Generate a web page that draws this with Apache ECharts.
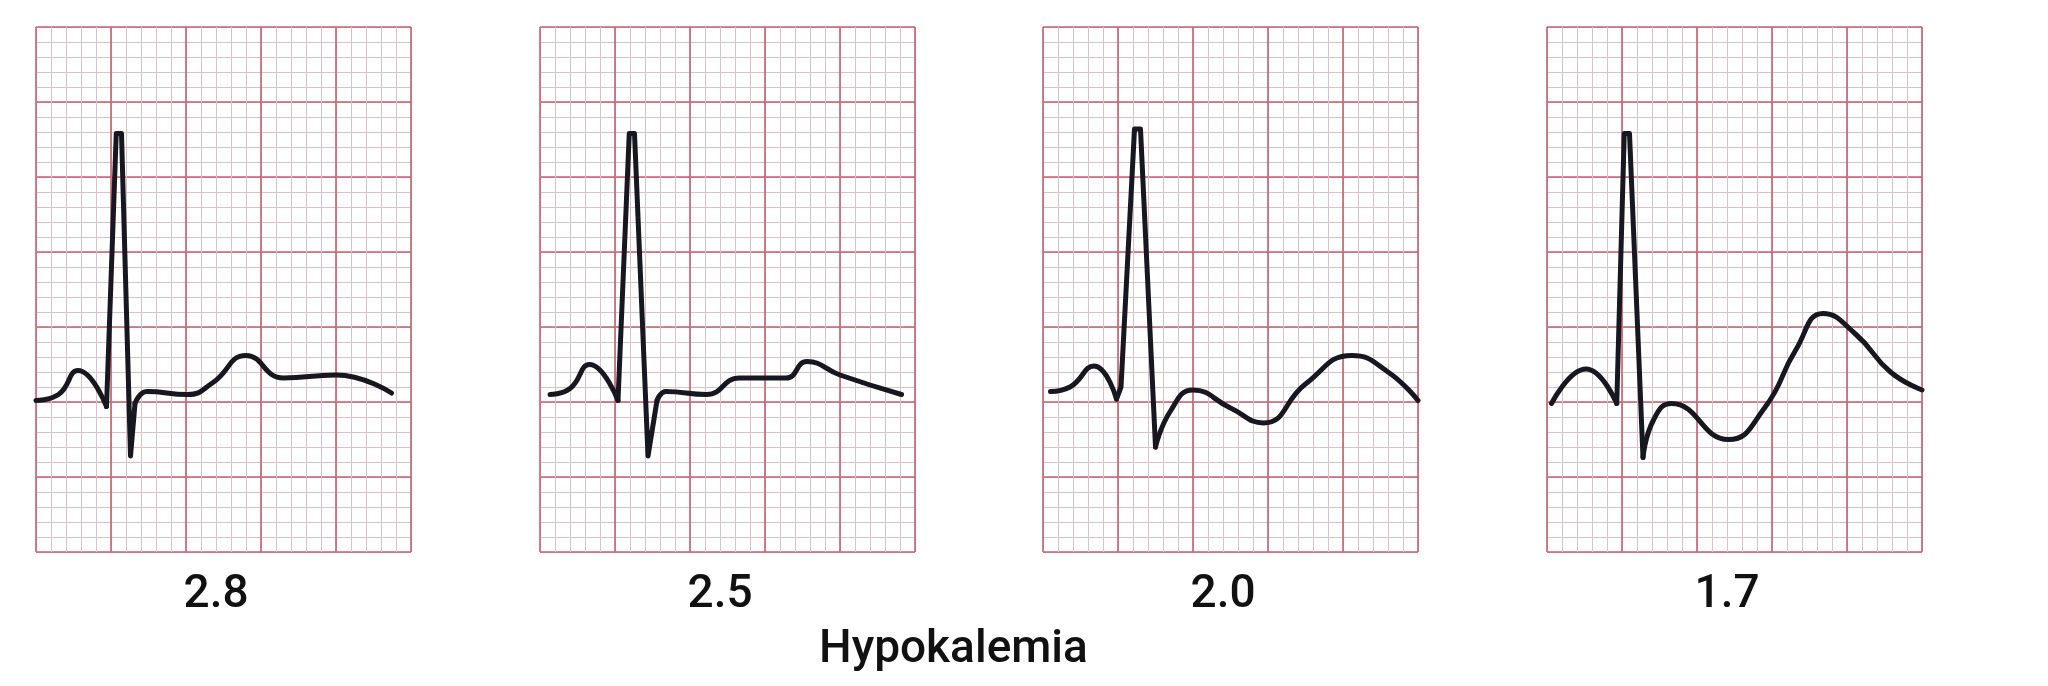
<!DOCTYPE html>
<html><head><meta charset="utf-8">
<script src="https://cdn.jsdelivr.net/npm/echarts@6/dist/echarts.min.js"></script>
<style>html,body{margin:0;padding:0;background:#fff}#c{width:2048px;height:686px}</style>
</head><body><div id="c"></div>
<script>
const panelLabels = ['2.8', '2.5', '2.0', '1.7'];
const caption = 'Hypokalemia';
// each trace: P-wave segment, QRS segment (straight), ST/T segment
const p28 = [[0,10.1],[1.5,10.5],[2.8,12.1],[4.7,9.7]];
const qrs28 = [[4.7,9.7],[5.35,27.9],[5.7,27.9],[6.3,6.4],[6.6,9.9]];
const t28 = [[6.6,9.9],[7.4,10.7],[10.1,10.5],[11.8,11.3],[14.0,13.1],[16.5,11.6],[20.0,11.8],[23.7,10.6]];
const p25 = [[0.67,10.5],[2.0,10.9],[3.3,12.5],[5.2,10.1]];
const qrs25 = [[5.2,10.1],[5.95,27.9],[6.3,27.9],[7.2,6.4],[7.8,10.1]];
const t25 = [[7.8,10.1],[8.4,10.7],[11.1,10.5],[13.3,11.6],[16.4,11.6],[17.8,12.7],[20,11.8],[24.1,10.5]];
const p20 = [[0.5,10.7],[1.8,11.0],[3.4,12.4],[4.9,10.2]];
const qrs20 = [[4.9,10.2],[5.2,11],[6.1,28.2],[6.5,28.2],[7.5,7.0]];
const t20 = [[7.5,7.0],[8.5,9.4],[10.0,10.8],[12.5,9.6],[14.7,8.6],[17.5,11.2],[20.6,13.1],[23.0,12.0],[25,10.1]];
const p17 = [[0.3,9.9],[2.6,12.2],[4.65,9.9]];
const qrs17 = [[4.65,9.9],[5.15,27.9],[5.5,27.9],[6.4,6.3]];
const t17 = [[6.4,6.3],[7.1,8.8],[8.3,9.9],[12.1,7.5],[14.5,9.6],[16.6,13.5],[18.4,15.9],[20.6,14.5],[22.9,12.0],[25,10.8]];
const traces = [[p28, qrs28, t28], [p25, qrs25, t25], [p20, qrs20, t20], [p17, qrs17, t17]];

const lefts = [36, 540, 1043, 1547];
const W = 375, H = 525, TOP = 27;
const grid = [], xAxis = [], yAxis = [], series = [], graphic = [];
const font = '500 46px Roboto, "Liberation Sans", Arial, sans-serif';
lefts.forEach((l, i) => {
  grid.push({left: l, top: TOP, width: W, height: H, show: false});
  [[1, '#d8c2c8', 1], [5, '#c4606f', 1.6]].forEach(([iv, col, w]) => {
    xAxis.push({type: 'value', gridIndex: i, min: 0, max: 25, interval: iv,
      axisLine: {show: false}, axisTick: {show: false}, axisLabel: {show: false},
      splitLine: {show: true, lineStyle: {color: col, width: w}}});
    yAxis.push({type: 'value', gridIndex: i, min: 0, max: 35, interval: iv,
      axisLine: {show: false}, axisTick: {show: false}, axisLabel: {show: false},
      splitLine: {show: true, lineStyle: {color: col, width: w}}});
  });
  traces[i].forEach((seg, k) => {
    series.push({type: 'line', xAxisIndex: i * 2 + 1, yAxisIndex: i * 2 + 1, data: seg,
      showSymbol: false, smooth: k === 1 ? false : 0.5,
      lineStyle: {color: '#17171f', width: 5, join: 'round', cap: 'round'}, silent: true});
  });
  graphic.push({type: 'text', left: l + W / 2 - 40, top: 572, style: {text: panelLabels[i], width: 80, align: 'center', font, fill: '#111'}});
});
graphic.push({type: 'text', left: 979 - 160, top: 627, style: {text: caption, width: 320, align: 'center', font, fill: '#111'}});
const chart = echarts.init(document.getElementById('c'));
chart.setOption({animation: false, grid, xAxis, yAxis, series, graphic});
</script></body></html>
